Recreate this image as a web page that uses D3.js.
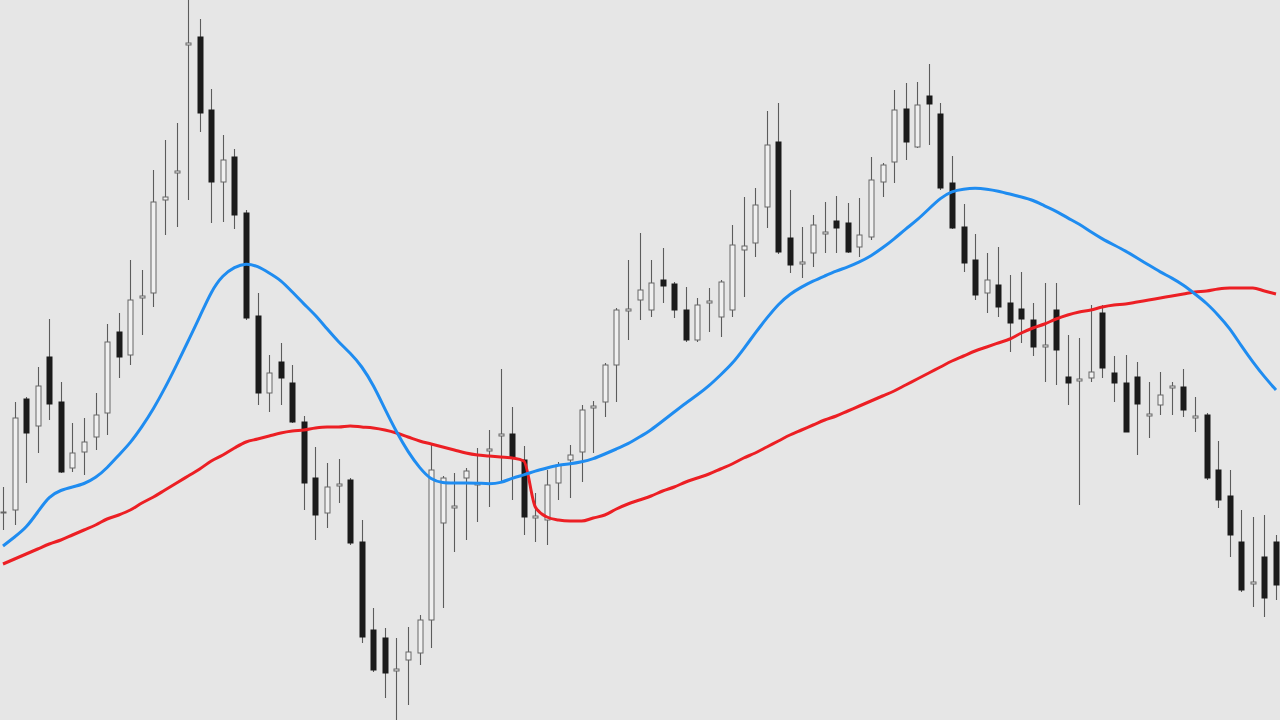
<!DOCTYPE html>
<html>
<head>
<meta charset="utf-8">
<script src="https://cdn.jsdelivr.net/npm/d3@7"></script>
<style>
html,body{margin:0;padding:0;background:#e6e6e6;}
svg{display:block;}
</style>
</head>
<body>
<svg id="chart" width="1280" height="720"></svg>
<script>
// Candle data (arbitrary price points)
const opens = [207,210,321,294,363,318,252,268,283,307,
388,365,422,427,520,547,675,683,610,538,
563,507,404,327,358,337,298,242,207,234,
240,178,90,82,49,60,67,100,197,212,
242,235,269,284,286,260,202,200,237,260,
268,312,318,355,409,420,410,440,436,410,
380,417,403,410,470,477,513,578,482,456,
467,486,499,497,473,483,538,558,611,573,
624,606,537,493,460,427,435,417,411,400,
373,410,343,339,342,407,347,337,343,304,
315,332,333,302,305,250,224,178,136,163,178];
const highs = [233,318,323,353,401,338,297,302,327,396,
407,460,450,550,580,597,720,701,631,585,
571,510,427,365,377,355,304,273,257,261,
242,200,112,92,82,93,105,275,244,247,
252,272,290,351,313,274,227,250,258,275,
315,319,357,412,460,487,460,472,438,433,
422,432,440,495,523,532,609,617,530,493,
505,518,524,517,522,563,557,630,637,638,
656,617,564,516,486,467,473,445,448,417,
437,437,385,382,415,415,364,365,358,338,
348,338,351,323,307,279,250,210,203,205,185];
const lows = [190,195,237,267,300,247,248,245,270,285,
342,355,385,413,485,493,520,588,497,498,
491,400,315,308,315,297,210,180,192,217,
175,77,48,22,0,15,55,72,112,168,
180,198,213,237,220,185,178,175,220,222,
238,267,303,318,380,400,403,417,402,378,
378,388,383,403,423,463,492,466,447,442,
453,467,467,467,463,480,523,537,560,572,
575,530,491,448,420,407,403,368,377,364,
338,335,315,215,338,342,318,288,265,282,
305,305,303,288,240,212,163,128,113,103,120];
const closes = [208,302,287,334,316,248,267,278,305,378,
363,420,424,518,523,549,677,607,538,560,
505,402,327,347,342,298,237,205,233,236,
177,83,50,47,51,68,100,250,242,214,
249,237,271,286,263,203,204,235,255,265,
310,314,355,410,411,430,437,434,410,380,
415,419,438,475,474,515,575,468,455,458,
495,488,492,468,485,540,555,610,578,615,
616,532,492,457,425,440,413,397,401,373,
375,370,337,341,348,352,337,288,316,306,
325,334,310,304,242,220,185,130,138,122,135];

// Moving averages (values per bar)
const fastMA = [174,183,192,208,224,230,233,236,242,252,
265,277,293,311,332,355,379,403,429,445,
453,457,454,447,440,428,416,405,391,378,
367,354,335,311,288,268,252,240,237,237,
237,237,236,237,242,245,249,252,255,256,
258,261,266,271,276,283,290,299,308,317,
325,334,345,356,371,387,402,416,426,433,
439,444,449,453,458,464,472,481,491,500,
511,522,529,531,532,531,529,526,523,520,
514,509,502,496,488,481,475,469,462,455,
448,442,435,426,417,405,392,374,358,343,330];
const slowMA = [156,161,166,171,176,180,185,190,195,201,
205,210,217,223,230,237,244,251,259,265,
272,278,281,284,287,289,290,292,293,293,
294,293,292,290,287,283,279,276,273,270,
267,265,264,263,262,259,213,203,200,199,
199,202,205,211,216,220,224,229,233,238,
242,246,251,256,262,267,273,279,285,290,
295,300,304,309,314,319,324,329,335,341,
347,353,359,364,369,373,377,381,387,392,
396,401,405,408,410,413,415,416,418,420,
422,424,426,428,429,431,432,432,432,429,426];

const W = 1280, H = 720;
const svg = d3.select("#chart");
svg.append("rect").attr("width", W).attr("height", H).attr("fill", "#e6e6e6");

const n = opens.length;
const bars = d3.range(n).map(i => ({i, o: opens[i], h: highs[i], l: lows[i], c: closes[i]}));

const x = d3.scaleLinear().domain([0, n - 1]).range([3, 1276]);
const y = d3.scaleLinear().domain([0, 720]).range([H, 0]);

const bodyW = 5;
const g = svg.append("g");

// wicks
g.selectAll("line.wick").data(bars).join("line")
  .attr("class", "wick")
  .attr("x1", d => Math.round(x(d.i)) + 0.5)
  .attr("x2", d => Math.round(x(d.i)) + 0.5)
  .attr("y1", d => y(d.h))
  .attr("y2", d => y(d.l))
  .attr("stroke", "#5c5c5c")
  .attr("stroke-width", 1.1);

// bodies
g.selectAll("rect.body").data(bars).join("rect")
  .attr("class", "body")
  .attr("x", d => Math.round(x(d.i)) + 0.5 - bodyW / 2)
  .attr("y", d => y(Math.max(d.o, d.c)))
  .attr("width", bodyW)
  .attr("height", d => Math.max(1, Math.abs(y(d.o) - y(d.c))))
  .attr("fill", d => d.c >= d.o ? "#f0f0f0" : "#1b1b1b")
  .attr("stroke", d => d.c >= d.o ? "#666" : "#1b1b1b")
  .attr("stroke-width", 1);

// moving averages
const lineSmooth = d3.line().x((d, i) => x(i)).y(d => y(d)).curve(d3.curveBasis);
const lineMono = d3.line().x((d, i) => x(i)).y(d => y(d)).curve(d3.curveMonotoneX);

svg.append("path").datum(slowMA)
  .attr("d", lineMono)
  .attr("fill", "none")
  .attr("stroke", "#ec1f24")
  .attr("stroke-width", 3)
  .attr("stroke-linejoin", "round");

svg.append("path").datum(fastMA)
  .attr("d", lineSmooth)
  .attr("fill", "none")
  .attr("stroke", "#1f8cf0")
  .attr("stroke-width", 3)
  .attr("stroke-linejoin", "round");
</script>
</body>
</html>
